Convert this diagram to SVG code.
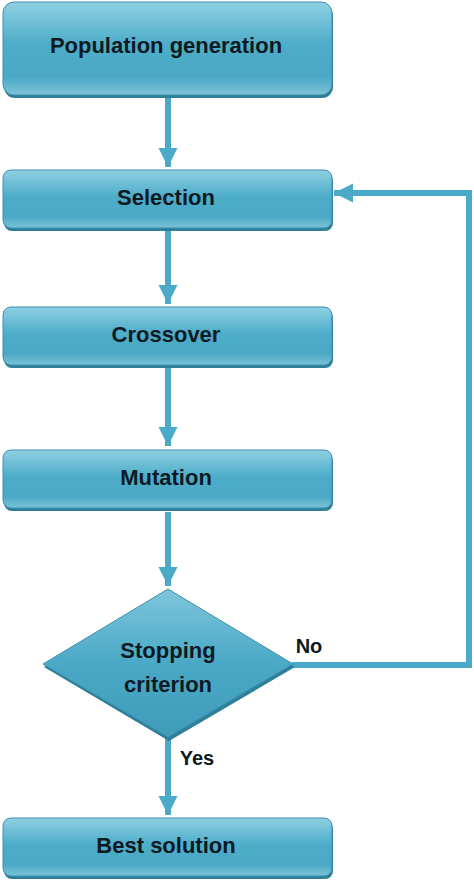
<svg xmlns="http://www.w3.org/2000/svg" width="474" height="880" viewBox="0 0 474 880">
<defs>
<linearGradient id="boxg" x1="0" y1="0" x2="0" y2="1">
<stop offset="0" stop-color="#8fd0e3"/>
<stop offset="0.45" stop-color="#4eadc9"/>
<stop offset="0.8" stop-color="#4aa8c5"/>
<stop offset="1" stop-color="#7cc3d8"/>
</linearGradient>
<linearGradient id="diag" x1="0" y1="0" x2="0" y2="1">
<stop offset="0" stop-color="#7fc6dc"/>
<stop offset="0.5" stop-color="#4aa9c6"/>
<stop offset="1" stop-color="#3f9cba"/>
</linearGradient>
<marker id="ah" viewBox="0 0 10 10" refX="10" refY="5" markerWidth="3.2" markerHeight="3.2" orient="auto" markerUnits="strokeWidth">
<path d="M0,0 L10,5 L0,10 z" fill="#4aaac8"/>
</marker>
</defs>
<style>
.box{fill:url(#boxg);stroke:#3d91ab;stroke-width:1}
.shadow{fill:#2e7f99}
.lbl{font-family:"Liberation Sans",Arial,sans-serif;font-weight:bold;font-size:22px;fill:#0d1a22;text-anchor:middle}
.small{font-size:20px}
.conn{fill:none;stroke:#4aaac8;stroke-width:6}
</style>
<g id="connectors">
<line class="conn" x1="168" y1="97" x2="168" y2="167" marker-end="url(#ah)"/>
<line class="conn" x1="168" y1="231" x2="168" y2="304" marker-end="url(#ah)"/>
<line class="conn" x1="168" y1="368" x2="168" y2="446" marker-end="url(#ah)"/>
<line class="conn" x1="168" y1="512" x2="168" y2="586" marker-end="url(#ah)"/>
<line class="conn" x1="168" y1="737" x2="168" y2="815" marker-end="url(#ah)"/>
<polyline class="conn" points="292,665 469,665 469,193 334,193" marker-end="url(#ah)"/>
<text class="lbl small" x="309" y="653">No</text>
<text class="lbl small" x="197" y="765">Yes</text>
</g>
<g id="n1">
<rect class="shadow" x="4" y="5" width="329" height="93" rx="11"/>
<rect class="box" x="3" y="2" width="329" height="93" rx="11"/>
<text class="lbl" x="166" y="53">Population generation</text>
</g>
<g id="n2">
<rect class="shadow" x="4" y="173" width="329" height="58" rx="8"/>
<rect class="box" x="3" y="170" width="329" height="58" rx="8"/>
<text class="lbl" x="166" y="205">Selection</text>
</g>
<g id="n3">
<rect class="shadow" x="4" y="310" width="329" height="58" rx="8"/>
<rect class="box" x="3" y="307" width="329" height="58" rx="8"/>
<text class="lbl" x="166" y="342">Crossover</text>
</g>
<g id="n4">
<rect class="shadow" x="4" y="453" width="329" height="58" rx="8"/>
<rect class="box" x="3" y="450" width="329" height="58" rx="8"/>
<text class="lbl" x="166" y="485">Mutation</text>
</g>
<g id="n5">
<polygon points="168,590 294,665 168,739 43,665" fill="#2e7f99" transform="translate(1,2)"/>
<polygon points="168,589 293,664 168,737 43,664" fill="url(#diag)" stroke="#3d91ab" stroke-width="1"/>
<text class="lbl" x="168" y="658">Stopping</text>
<text class="lbl" x="168" y="692">criterion</text>
</g>
<g id="n6">
<rect class="shadow" x="4" y="821" width="329" height="58" rx="8"/>
<rect class="box" x="3" y="818" width="329" height="58" rx="8"/>
<text class="lbl" x="166" y="853">Best solution</text>
</g>
</svg>
